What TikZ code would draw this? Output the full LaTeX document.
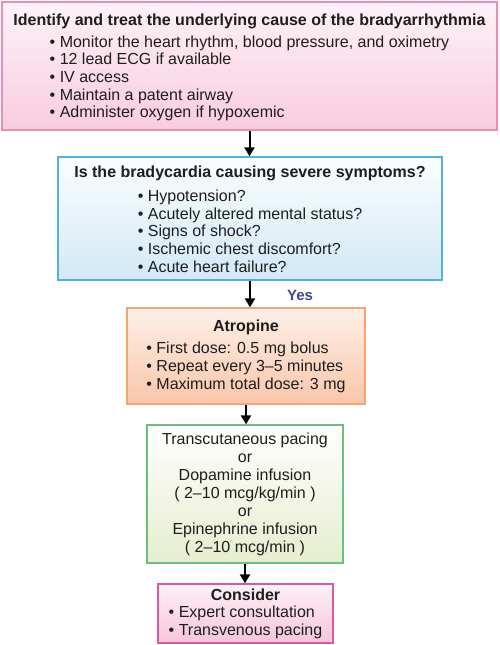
\documentclass[tikz,border=0pt]{standalone}
\usepackage{fontspec}
\setmainfont{Liberation Sans}
\usetikzlibrary{arrows.meta}
\definecolor{pinkB}{HTML}{EC8DB8}
\definecolor{pinkT}{HTML}{FDF2F7}
\definecolor{pinkBot}{HTML}{F9CCDF}
\definecolor{blueB}{HTML}{4FB3DA}
\definecolor{blueT}{HTML}{FAFDFE}
\definecolor{blueBot}{HTML}{D3E9F5}
\definecolor{oraB}{HTML}{F7A46E}
\definecolor{oraT}{HTML}{FDF0E8}
\definecolor{oraBot}{HTML}{F8C6AA}
\definecolor{grnB}{HTML}{6DBF7F}
\definecolor{grnT}{HTML}{FFFFFF}
\definecolor{grnBot}{HTML}{E6EDCF}
\definecolor{magB}{HTML}{DA5AA0}
\definecolor{magT}{HTML}{FDF0F6}
\definecolor{magBot}{HTML}{F6C5DB}
\definecolor{yesC}{HTML}{3A4C8B}
\definecolor{txt}{HTML}{1E1E1E}
\begin{document}
\begin{tikzpicture}[x=1pt,y=-1pt,
  box/.style={draw, line width=1.3pt, rectangle, align=center, inner sep=0pt, text=txt,
    font=\fontsize{16}{17.6}\selectfont},
  flow/.style={line width=2pt, -{Triangle[width=10pt,length=9pt]}},
  ]
\useasboundingbox (0,0) rectangle (500,645);
\node[box, draw=pinkB, top color=pinkT, bottom color=pinkBot,
  minimum width=495pt, minimum height=128pt,
  font=\fontsize{16}{17.7}\selectfont] (b1) at (249.5,66)
  {\rule{0pt}{17pt}{\bfseries Identify and treat the underlying cause of the bradyarrhythmia}\\[4.5pt]
   \begin{tabular}{@{}l@{}}
   • Monitor the heart rhythm, blood pressure, and oximetry\\
   • 12 lead ECG if available\\
   • IV access\\
   • Maintain a patent airway\\
   • Administer oxygen if hypoxemic
   \end{tabular}};
\node[box, draw=blueB, top color=blueT, bottom color=blueBot,
  minimum width=384pt, minimum height=123pt,
  font=\fontsize{16}{17.7}\selectfont] (b2) at (250,218.5)
  {\rule{0pt}{18pt}{\bfseries Is the bradycardia causing severe symptoms?}\\[7pt]
   \begin{tabular}{@{}l@{}}
   • Hypotension?\\
   • Acutely altered mental status?\\
   • Signs of shock?\\
   • Ischemic chest discomfort?\\
   • Acute heart failure?
   \end{tabular}};
\node[box, draw=oraB, top color=oraT, bottom color=oraBot,
  minimum width=238pt, minimum height=96pt,
  font=\fontsize{16}{18}\selectfont] (b3) at (246,356)
  {\rule{0pt}{15pt}{\bfseries Atropine}\\[5pt]
   \begin{tabular}{@{}l@{}}
   • First dose: 0.5 mg bolus\\
   • Repeat every 3–5 minutes\\
   • Maximum total dose: 3 mg
   \end{tabular}};
\node[box, draw=grnB, top color=grnT, bottom color=grnBot,
  minimum width=196pt, minimum height=138pt,
  font=\fontsize{16}{18}\selectfont] (b4) at (245,494)
  {Transcutaneous pacing\\ or\\ Dopamine infusion\\ ( 2–10 mcg/kg/min )\\ or\\
   Epinephrine infusion\\ ( 2–10 mcg/min )};
\node[box, draw=magB, top color=magT, bottom color=magBot,
  minimum width=175pt, minimum height=59pt,
  font=\fontsize{16}{18}\selectfont] (b5) at (245.5,613.5)
  {\rule{0pt}{15pt}{\bfseries Consider}\\[3.4pt]
   \begin{tabular}{@{}l@{}}
   • Expert consultation\\
   • Transvenous pacing
   \end{tabular}};
\draw[flow] (b1.south) -- (b1.south |- b2.north);
\draw[flow] (b2.south) -- (b2.south |- b3.north);
\draw[flow] (b3.south) -- (b3.south |- b4.north);
\draw[flow] (b4.south) -- (b4.south |- b5.north);
\node[font=\fontsize{15}{16}\selectfont\bfseries, text=yesC] (yes) at (300,295) {Yes};
\end{tikzpicture}
\end{document}
